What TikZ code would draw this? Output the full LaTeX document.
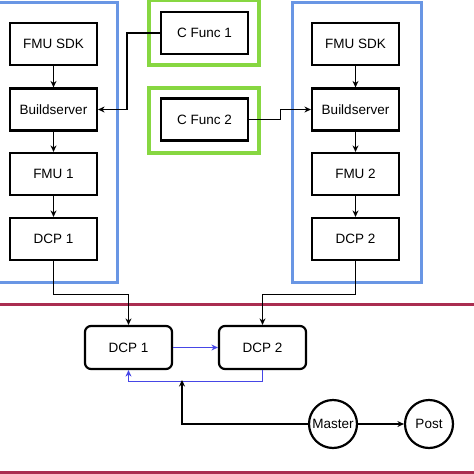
\documentclass[tikz,border=0pt]{standalone}
\usepackage{fontspec}
\setmainfont{Liberation Sans}
\usetikzlibrary{arrows.meta}
\definecolor{grpblue}{RGB}{105,150,228}
\definecolor{grpgreen}{RGB}{135,215,65}
\definecolor{grpred}{RGB}{170,45,80}
\definecolor{fbblue}{RGB}{70,70,230}
\tikzset{
  box/.style={draw=black, line width=2.2pt, minimum width=87pt, minimum height=42pt, inner sep=0pt, font=\fontsize{13.5}{15}\selectfont},
  rbox/.style={box, rounded corners=6pt, minimum height=43pt},
  circ/.style={draw=black, line width=2.2pt, circle, minimum size=48pt, inner sep=0pt, font=\fontsize{13.5}{15}\selectfont},
  bluegrp/.style={draw=grpblue, line width=3pt},
  greengrp/.style={draw=grpgreen, line width=3.2pt},
  redline/.style={draw=grpred, line width=3pt},
  arr/.style={draw=black, line width=1.2pt, -{Stealth[length=6.5pt,width=6pt]}},
  barr/.style={draw=fbblue, line width=1.2pt, -{Stealth[length=6.5pt,width=6pt]}},
}
\begin{document}
\begin{tikzpicture}[x=1pt,y=-1pt]
\useasboundingbox (0,0) rectangle (474,474);
% group frames
\draw[bluegrp] (-10,2) rectangle (117,282);
\draw[bluegrp] (292,2) rectangle (421,282);
\draw[greengrp] (149,0) rectangle (259,65);
\draw[greengrp] (149,88) rectangle (259,153);
\draw[redline] (0,304) -- (474,304);
\draw[redline] (0,472.5) -- (474,472.5);
% left column
\node[box] (sdk1) at (53.5,44) {FMU SDK};
\node[box] (bs1) at (53.5,109.5) {Buildserver};
\node[box] (fmu1) at (53.5,174) {FMU 1};
\node[box] (dcp1) at (53.5,239) {DCP 1};
% right column
\node[box] (sdk2) at (355.5,44) {FMU SDK};
\node[box] (bs2) at (355.5,109.5) {Buildserver};
\node[box] (fmu2) at (355.5,174) {FMU 2};
\node[box] (dcp2) at (355.5,239) {DCP 2};
% C functions
\node[box] (cf1) at (204.5,33) {C Func 1};
\node[box] (cf2) at (204.5,119.5) {C Func 2};
% lower part
\node[rbox] (ldcp1) at (128.5,347.5) {DCP 1};
\node[rbox] (ldcp2) at (262.5,347.5) {DCP 2};
\node[circ] (master) at (333,424) {Master};
\node[circ] (post) at (429,424) {Post};
\coordinate (fb) at (182,380);
% connectors
\draw[arr] (sdk1) -- (bs1);
\draw[arr] (bs1) -- (fmu1);
\draw[arr] (fmu1) -- (dcp1);
\draw[arr] (sdk2) -- (bs2);
\draw[arr] (bs2) -- (fmu2);
\draw[arr] (fmu2) -- (dcp2);
\draw[arr] (cf1.west) -- ++(-33,0) |- (bs1.east);
\draw[arr] (cf2.east) -- ++(31,0) |- (bs2.west);
\draw[arr] (dcp1.south) -- ++(0,33) -| (ldcp1.north);
\draw[arr] (dcp2.south) -- ++(0,33) -| (ldcp2.north);
\draw[barr] (ldcp1.east) -- (ldcp2.west);
\draw[barr] (ldcp2.south) -- ++(0,11) -| (ldcp1.south);
\draw[arr] (master.west) -| (fb);
\draw[arr] (master.east) -- (post.west);
\end{tikzpicture}
\end{document}
